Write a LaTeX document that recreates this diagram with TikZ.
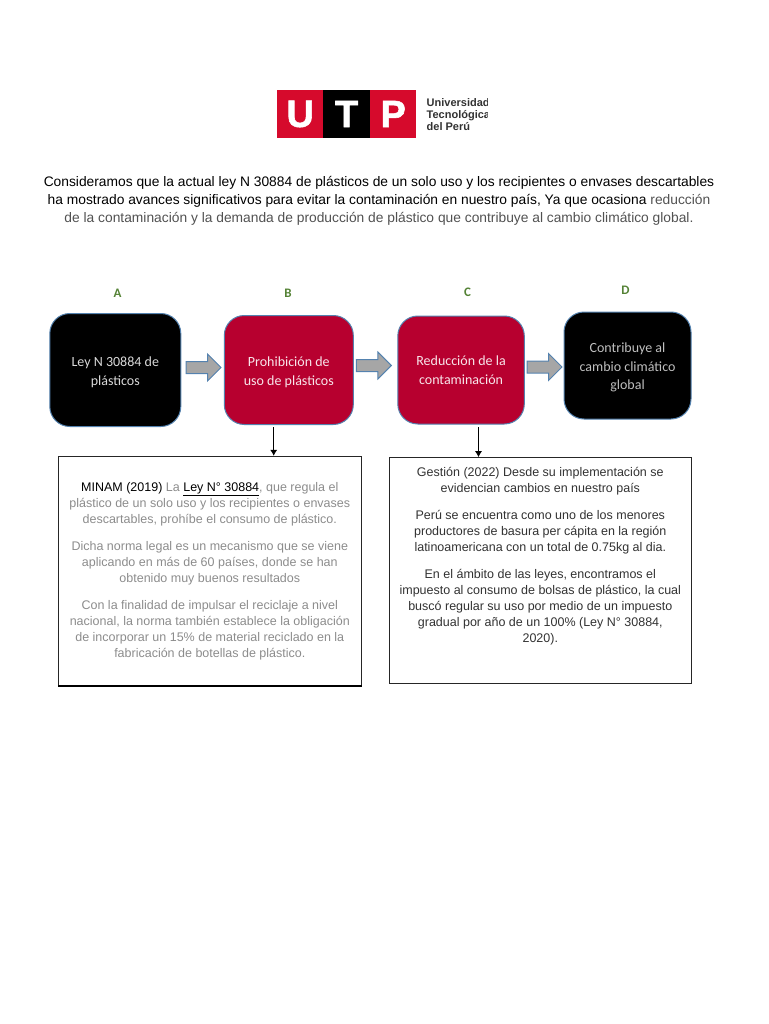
\documentclass[tikz,border=0pt]{standalone}
\usepackage{fontspec}
\setmainfont{Liberation Sans}
\newfontfamily\boxfont{Carlito}
\newfontfamily\logofont{Liberation Sans Bold}[FakeBold=1.5]
\usepackage{xcolor}
\usetikzlibrary{positioning, arrows.meta, shapes.arrows}
\definecolor{utpred}{RGB}{183, 0, 47}
\definecolor{logored}{RGB}{214, 10, 44}
\definecolor{edgeblue}{RGB}{84, 130, 175}
\definecolor{letragreen}{RGB}{84, 130, 53}
\definecolor{softgray}{RGB}{140, 140, 140}
\definecolor{darktext}{RGB}{50, 50, 50}
\tikzset{
  stage/.style={
    draw=edgeblue, line width=1pt, rounded corners=20pt,
    align=center, font=\boxfont\fontsize{14}{18.7}\selectfont,
    inner sep=0pt,
  },
  stage black/.style={stage, fill=black, text=white!85!black},
  stage red/.style={stage, fill=utpred, text=white!90!utpred},
  letra/.style={font=\boxfont\bfseries\fontsize{13}{15}\selectfont, text=letragreen},
  push/.style={
    shape=single arrow, draw=edgeblue, fill=black!35, line width=1pt,
    minimum height=35pt, single arrow head extend=7.5pt,
    inner sep=5.5pt,
  },
  note/.style={
    draw=black!85, line width=0.9pt, align=center, inner sep=0pt,
    font=\fontsize{12.5}{16}\selectfont,
  },
  drop/.style={draw=black, line width=0.7pt, -{Latex[length=6pt, width=7pt]}},
  logocell/.style={
    minimum width=46.5pt, minimum height=48pt, inner sep=0pt, outer sep=0pt, text=white,
    font=\logofont\fontsize{38}{38}\selectfont,
  },
}
\newcommand{\lift}{\rule{0pt}{14pt}}
\begin{document}
\begin{tikzpicture}[x=1pt, y=1pt]
\useasboundingbox (0,0) rectangle (768,-1024);

% Logo
\node[logocell, fill=logored] (logou) at (300.2,-114) {U};
\node[logocell, fill=black, right=0pt of logou] (logot) {T};
\node[logocell, fill=logored, right=0pt of logot] (logop) {P};
\begin{scope}
\clip (420,-90) rectangle (487.5,-140);
\node[anchor=west, align=left, inner sep=0pt, text=darktext,
      font=\bfseries\fontsize{11}{12}\selectfont] (logotext) at (426.5,-115)
  {Universidad\\Tecnológica\\del Perú};
\end{scope}

% Intro
\node[align=center, inner sep=0pt, font=\fontsize{13.8}{18}\selectfont] (intro) at (379,-201)
  {Consideramos que la actual ley N 30884 de plásticos de un solo uso y los recipientes o envases descartables\\
   ha mostrado avances significativos para evitar la contaminación en nuestro país, Ya que ocasiona \textcolor{darktext!85!white}{reducción}\\
   \textcolor{darktext!85!white}{de la contaminación y la demanda de producción de plástico que contribuye al cambio climático global.}};

% Etapas
\node[stage black, minimum width=131pt, minimum height=113pt] (leyA) at (115.3,-370) {\lift Ley N 30884 de\\plásticos};
\node[stage red, minimum width=129pt, minimum height=109pt, right=42.5pt of leyA] (prohB) {\lift Prohibición de\\uso de plásticos};
\node[stage red, minimum width=126.5pt, minimum height=108pt, right=43.5pt of prohB] (reduC) {Reducción de la\\contaminación};
\node[stage black, minimum width=127pt, minimum height=107pt, text=white!75!black] (contD) at (627.5,-365.5) {\lift Contribuye al\\cambio climático\\global};

\node[letra] (letraA) at (117.5,-293.5) {A};
\node[letra] (letraB) at (288,-293.5) {B};
\node[letra] (letraC) at (467.5,-292.5) {C};
\node[letra] (letraD) at (625.5,-290.5) {D};

\node[push] (pushA) at (200.5,-367.5) {};
\node[push] (pushB) at (370.8,-365.5) {};
\node[push] (pushC) at (541.5,-367) {};

% Recuadros
\node[note, minimum width=302.5pt, minimum height=229.5pt, text=softgray] (minam) at (209.8,-571)
  {\textcolor{black}{MINAM (2019)} La \textcolor{black}{\underline{Ley N° 30884}}, que regula el\\
   plástico de un solo uso y los recipientes o envases\\
   descartables, prohíbe el consumo de plástico.\\[11pt]
   Dicha norma legal es un mecanismo que se viene\\
   aplicando en más de 60 países, donde se han\\
   obtenido muy buenos resultados\\[11pt]
   Con la finalidad de impulsar el reciclaje a nivel\\
   nacional, la norma también establece la obligación\\
   de incorporar un 15\% de material reciclado en la\\
   fabricación de botellas de plástico.};
\node[note, minimum width=302.5pt, minimum height=225.5pt, text=darktext] (gestion) at (540.3,-570.3)
  {Gestión (2022) Desde su implementación se\\
   evidencian cambios en nuestro país\\[11pt]
   Perú se encuentra como uno de los menores\\
   productores de basura per cápita en la región\\
   latinoamericana con un total de 0.75kg al dia.\\[11pt]
   En el ámbito de las leyes, encontramos el\\
   impuesto al consumo de bolsas de plástico, la cual\\
   buscó regular su uso por medio de un impuesto\\
   gradual por año de un 100\% (Ley N° 30884,\\
   2020).\\[14pt]\mbox{}};
\draw[line width=1.6pt] (minam.south west) -- (minam.south east);

\coordinate (dropB) at (273.7,-427);
\coordinate (dropC) at (478.5,-427);
\draw[drop] (dropB) -- (dropB |- minam.north);
\draw[drop] (dropC) -- (dropC |- gestion.north);

\end{tikzpicture}
\end{document}
